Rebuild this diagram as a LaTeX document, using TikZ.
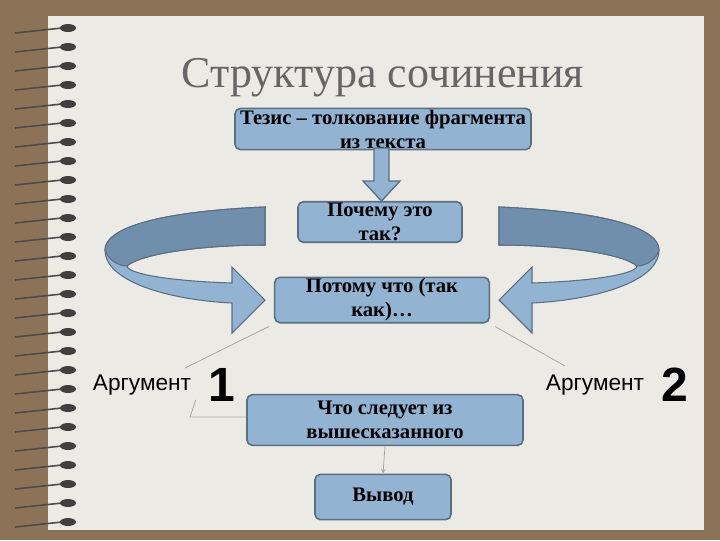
\documentclass[tikz,border=0pt]{standalone}
\usepackage{fontspec}
\setmainfont{Liberation Serif}
\newfontfamily\argfont{Liberation Sans}
\usetikzlibrary{positioning}
\definecolor{boxfill}{HTML}{93B3D2}
\definecolor{boxline}{HTML}{5B6F82}
\definecolor{backband}{HTML}{6F8FAD}
\definecolor{paper}{HTML}{ECEAE4}
\definecolor{frame}{HTML}{8C7358}
\tikzset{
  stepbox/.style={draw=boxline,line width=1.2pt,fill=boxfill,rounded corners=4pt,
    font=\bfseries\fontsize{15.5}{18}\selectfont,align=center,inner sep=1pt},
  thin line/.style={draw=gray!70,line width=0.6pt},
  argtext/.style={font=\argfont\fontsize{17}{19}\selectfont},
  argnum/.style={font=\argfont\bfseries\fontsize{36}{38}\selectfont}
}
\begin{document}
\begin{tikzpicture}[x=0.75pt,y=-0.75pt]
\useasboundingbox (0,0) rectangle (720,540);
\fill[frame] (0,0) rectangle (720,540);
\fill[paper] (48,16) rectangle (704,530);
% spiral rings
\foreach \y in {28,47,...,525}{
  \draw[black!70,line width=1.2pt] (15,\y+5) -- (62,\y);
  \fill[black!75] (68,\y) ellipse (8 and 4);
}
\node[text=black!60,font=\fontsize{33}{35}\selectfont] (title) at (383,78) {Структура сочинения};
% boxes
\node[stepbox,minimum width=222pt,minimum height=28pt] (tezis) at (383,129)
  {Тезис -- толкование фрагмента\\из текста};
\node[stepbox,minimum width=123pt,minimum height=30pt] (pochemu) at (380,222) {Почему это\\так?};
\node[stepbox,minimum width=161pt,minimum height=29pt] (potomu) at (382,300) {Потому что (так\\как)…};
\node[stepbox,minimum width=207pt,minimum height=38pt] (sledует) at (385,420) {Что следует из\\вышесказанного};
\node[stepbox,minimum width=102pt,minimum height=34pt] (vyvod) at (383,497) {Вывод};
% down arrow
\fill[boxfill,draw=boxline,line width=1pt] (374,148) -- (389,148) -- (389,181) -- (400,181)
  -- (381.5,201) -- (363,181) -- (374,181) -- cycle;
% curved arrows
\foreach \s/\c in {1/0,-1/764}{
\begin{scope}[xshift=\c*0.75pt,xscale=\s]
\fill[boxfill,draw=boxline,line width=0.8pt] (265,207) .. controls (150,212) and (105,230) .. (105,250)
  .. controls (105,282) and (170,300) .. (232,303) -- (232,333) -- (265,300) -- (232,267) -- (232,283)
  .. controls (170,281) and (128,274) .. (127,266) .. controls (140,254) and (200,245) .. (265,245) -- cycle;
\fill[backband,draw=boxline,line width=0.8pt] (265,207) .. controls (150,212) and (105,230) .. (105,250)
  .. controls (107,258) and (117,266) .. (127,266) .. controls (140,254) and (200,245) .. (265,245) -- cycle;
\end{scope}}
% arguments
\node[argtext] (arg1) at (142,385) {Аргумент};
\node[argnum,right=6pt of arg1] (num1) {1};
\node[argtext] (arg2) at (595,385) {Аргумент};
\node[argnum,right=6pt of arg2] (num2) {2};
\coordinate (c1) at (190,417);
\draw[thin line] (potomu.south west) ++(-5,3) -- (185,368);
\draw[thin line] (potomu.south east) ++(5,3) -- (565,366);
\draw[thin line] (arg1.south east) -- (c1) -- (sledует.west |- c1);
\draw[thin line,->,>=stealth] (sledует.south) -- (vyvod.north);
\end{tikzpicture}
\end{document}
